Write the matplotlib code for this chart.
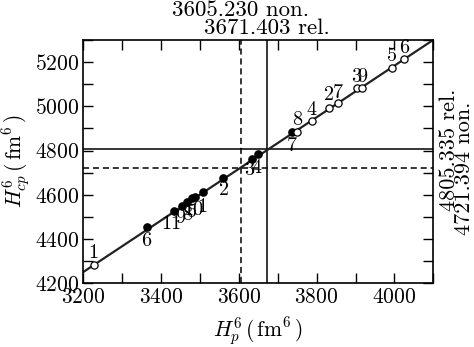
import matplotlib
matplotlib.use("Agg")
import matplotlib.pyplot as plt
from matplotlib.ticker import MultipleLocator

plt.rcParams['font.family'] = 'cmr10'
plt.rcParams['mathtext.fontset'] = 'cm'
plt.rcParams['axes.formatter.use_mathtext'] = True

# ---- data ----
open_labels = ['1', '8', '4', '2', '7', '3', '9', '5', '6']
open_x = [3228, 3749, 3787, 3832, 3854, 3903, 3916, 3994, 4024]
open_y = [4283, 4883, 4932, 4994, 5014, 5084, 5082, 5172, 5213]

filled_labels = ['6', '11', '9', '8', '5', '10', '1', '2', '3', '4', '7']
filled_x = [3363, 3434, 3453, 3466, 3479, 3487, 3507, 3560, 3633, 3650, 3736]
filled_y = [4453, 4528, 4549, 4569, 4587, 4592, 4613, 4677, 4762, 4783, 4885]

fit_intercept_at_3200 = 4251.0
fit_slope = 1.1656
fit_x = [3200, 4100]

vline_non = 3605.230
vline_rel = 3671.403
hline_rel = 4805.335
hline_non = 4721.394

# ---- layout (label offsets in pixels) ----
open_off = [(-1, 12), (0, 12), (0, 11), (0, 13), (0, 10), (0, 11), (0, 11), (0, 12), (0, 11)]
filled_off = [(0, -14), (-3, -13), (-1, -12), (0, -13), (0, -14), (-2, -13), (0, -15),
              (1, -12), (-2, -11), (-2, -14), (0, -14)]

fig = plt.figure(figsize=(4.74, 3.47), dpi=100)
ax = fig.add_axes([0.1757, 0.1836, 0.9141 - 0.1757, 0.885 - 0.1836])

ax.set_xlim(3200, 4100)
ax.set_ylim(4200, 5300)

fit_y = [fit_intercept_at_3200 + fit_slope * (x - 3200) for x in fit_x]
ax.plot(fit_x, fit_y, color='#222222', lw=1.6, zorder=2)

ax.axvline(vline_non, color='black', lw=1.1, ls=(0, (4, 2.5)), zorder=1)
ax.axvline(vline_rel, color='black', lw=1.1, zorder=1)
ax.axhline(hline_rel, color='black', lw=1.1, zorder=1)
ax.axhline(hline_non, color='black', lw=1.1, ls=(0, (4, 2.5)), zorder=1)

ax.plot(filled_x, filled_y, 'o', ms=5.2, mfc='black', mec='black', zorder=3)
ax.plot(open_x, open_y, 'o', ms=5.2, mfc='white', mec='black', mew=0.9, zorder=3)

for lab, x, y, (dx, dy) in zip(open_labels, open_x, open_y, open_off):
    ax.annotate(lab, (x, y), xytext=(dx, dy), textcoords='offset pixels',
                ha='center', va='center', fontsize=14.5)
for lab, x, y, (dx, dy) in zip(filled_labels, filled_x, filled_y, filled_off):
    ax.annotate(lab, (x, y), xytext=(dx, dy), textcoords='offset pixels',
                ha='center', va='center', fontsize=14.5)

ax.xaxis.set_major_locator(MultipleLocator(200))
ax.xaxis.set_minor_locator(MultipleLocator(100))
ax.yaxis.set_major_locator(MultipleLocator(200))
ax.yaxis.set_minor_locator(MultipleLocator(100))
ax.tick_params(which='both', direction='in', top=True, right=True, length=7.5, width=1.0)
ax.tick_params(which='major', labelsize=15.5, pad=3)
for s in ax.spines.values():
    s.set_linewidth(1.2)

ax.set_xlabel(r'$H_p^6\,(\,\mathrm{fm}^6\,)$', fontsize=15.5, labelpad=6)
ax.set_ylabel(r'$H_{cp}^6\,(\,\mathrm{fm}^6\,)$', fontsize=15.5, labelpad=1)

# annotations of crossing values
ax.annotate('3605.230 non.', (vline_non, 1.0), xycoords=('data', 'axes fraction'),
            xytext=(0, 30), textcoords='offset pixels', ha='center', va='center',
            fontsize=16.5, annotation_clip=False)
ax.annotate('3671.403 rel.', (vline_rel, 1.0), xycoords=('data', 'axes fraction'),
            xytext=(0, 12), textcoords='offset pixels', ha='center', va='center',
            fontsize=16.5, annotation_clip=False)
ax.annotate('4805.335 rel.', (1.0, hline_rel), xycoords=('axes fraction', 'data'),
            xytext=(16, 0), textcoords='offset pixels', ha='center', va='center',
            rotation=90, fontsize=16, annotation_clip=False)
ax.annotate('4721.394 non.', (1.0, hline_non), xycoords=('axes fraction', 'data'),
            xytext=(31, 0), textcoords='offset pixels', ha='center', va='center',
            rotation=90, fontsize=16, annotation_clip=False)

fig.savefig('out.png', dpi=100)
